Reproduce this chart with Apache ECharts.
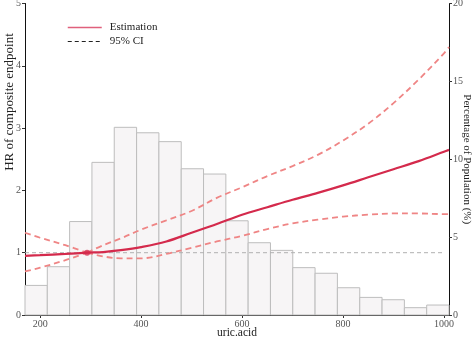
<!DOCTYPE html>
<html>
<head>
<meta charset="utf-8">
<script src="https://cdn.jsdelivr.net/npm/echarts@6/dist/echarts.min.js"></script>
<style>
  html, body { margin: 0; padding: 0; background: #fff; }
  #chart { width: 474px; height: 339px; }
</style>
</head>
<body>
<div id="chart"></div>
<script>
// Histogram of uric acid (percentage of population per bin)
const binEdges = [170, 214.2, 258.4, 302.6, 346.8, 391.1, 435.3, 479.5, 523.7, 567.9,
                  612.1, 656.3, 700.5, 744.7, 788.9, 833.2, 877.4, 921.6, 965.8, 1010];
const binPercent = [1.9, 3.1, 6.0, 9.8, 12.05, 11.7, 11.13, 9.39, 9.05, 6.05,
                    4.64, 4.15, 3.04, 2.68, 1.75, 1.13, 0.98, 0.47, 0.64];

// Restricted cubic spline: hazard ratio with 95% confidence limits
const splineX  = [170, 200, 250, 293, 325, 360, 400, 450, 500, 550, 600, 650, 700, 750, 800, 850, 900, 950, 1000, 1010];
const hrEst    = [0.95, 0.96, 0.98, 1.00, 1.01, 1.04, 1.09, 1.18, 1.32, 1.46, 1.61, 1.73, 1.85, 1.96, 2.08, 2.21, 2.34, 2.47, 2.62, 2.65];
const hrUpper  = [1.32, 1.24, 1.12, 1.00, 1.12, 1.23, 1.37, 1.52, 1.67, 1.88, 2.05, 2.23, 2.39, 2.57, 2.80, 3.07, 3.40, 3.78, 4.20, 4.30];
const hrLower  = [0.70, 0.76, 0.88, 1.00, 0.94, 0.91, 0.91, 0.98, 1.08, 1.18, 1.27, 1.38, 1.47, 1.53, 1.58, 1.61, 1.63, 1.63, 1.62, 1.62];

// Reference value and reference line
const refX = 293;
const refHR = 1;
const refLineX = [170, 1000];

// Axis ticks
const xTicks = [200, 400, 600, 800, 1000];

const serif = 'Liberation Serif';
const estColor = '#d42a4c';
const ciColor = '#ef8585';

const refIdx = splineX.indexOf(refX);
const pairs = (ys, from, to) => splineX.slice(from, to).map((x, i) => [x, ys[from + i]]);

const ciSeries = [];
[hrUpper, hrLower].forEach(ys => {
  [[0, refIdx + 1], [refIdx, splineX.length]].forEach(([a, b]) => {
    ciSeries.push({
      name: '95% CI',
      type: 'line',
      yAxisIndex: 0,
      data: pairs(ys, a, b),
      smooth: 0.35,
      symbol: 'none',
      lineStyle: { color: ciColor, width: 1.8, type: [6, 4] },
      itemStyle: { color: ciColor },
      z: 3,
      silent: true
    });
  });
});

const histData = binPercent.map((p, i) => [binEdges[i], binEdges[i + 1], p]);

const axisLabelStyle = { color: '#555', fontFamily: serif, fontSize: 10 };

const option = {
  animation: false,
  backgroundColor: '#fff',
  grid: { left: 25, right: 25, top: 3.5, bottom: 24, containLabel: false, outerBoundsMode: 'none' },
  legend: {
    orient: 'vertical',
    left: 62,
    top: 17,
    itemWidth: 34,
    itemHeight: 12,
    itemGap: 3,
    textStyle: { fontFamily: serif, fontSize: 11, color: '#222', padding: [0, 0, 0, 3] },
    data: [
      { name: 'Estimation', itemStyle: { opacity: 0 }, lineStyle: { color: '#e0607c', width: 1.5, type: 'solid' } },
      { name: '95% CI', itemStyle: { opacity: 0 }, lineStyle: { color: '#222', width: 1.2, type: [4, 3] } }
    ]
  },
  xAxis: {
    type: 'value',
    min: 170,
    max: 1010,
    name: 'uric.acid',
    nameLocation: 'middle',
    nameGap: 12,
    nameMoveOverlap: false,
    nameTextStyle: { fontFamily: serif, fontSize: 11.5, color: '#222' },
    axisLine: { show: true, lineStyle: { color: '#111', width: 1 } },
    axisTick: { show: true, length: 3, customValues: xTicks, lineStyle: { color: '#333' } },
    axisLabel: Object.assign({ margin: 4, customValues: xTicks, formatter: v => String(v) }, axisLabelStyle),
    splitLine: { show: false }
  },
  yAxis: [
    {
      type: 'value',
      position: 'left',
      min: 0,
      max: 5,
      interval: 1,
      axisLine: { show: true, lineStyle: { color: '#111', width: 1 } },
      axisTick: { show: true, length: 3, lineStyle: { color: '#333' } },
      axisLabel: Object.assign({ margin: 4 }, axisLabelStyle),
      splitLine: { show: false }
    },
    {
      type: 'value',
      position: 'right',
      min: 0,
      max: 20,
      interval: 5,
      name: 'Percentage of Population (%)',
      nameLocation: 'middle',
      nameRotate: -90,
      nameGap: 12,
      nameMoveOverlap: false,
      nameTextStyle: { fontFamily: serif, fontSize: 11, color: '#222' },
      axisLine: { show: true, lineStyle: { color: '#111', width: 1 } },
      axisTick: { show: true, length: 3, lineStyle: { color: '#333' } },
      axisLabel: Object.assign({ margin: 4 }, axisLabelStyle),
      splitLine: { show: false }
    }
  ],
  graphic: [
    {
      type: 'text',
      x: 10,
      y: 102,
      rotation: Math.PI / 2,
      style: {
        text: 'HR of composite endpoint',
        font: '13px "Liberation Serif"',
        fill: '#222',
        align: 'center',
        verticalAlign: 'middle'
      }
    }
  ],
  series: [
    {
      name: 'Population',
      type: 'custom',
      yAxisIndex: 1,
      data: histData,
      z: 1,
      silent: true,
      renderItem: function (params, api) {
        const tl = api.coord([api.value(0), api.value(2)]);
        const br = api.coord([api.value(1), 0]);
        return {
          type: 'rect',
          shape: { x: tl[0], y: tl[1], width: br[0] - tl[0], height: br[1] - tl[1] },
          style: { fill: '#f7f5f6', stroke: '#bdbdbd', lineWidth: 1 }
        };
      }
    },
    {
      name: 'Reference',
      type: 'line',
      yAxisIndex: 0,
      data: refLineX.map(x => [x, refHR]),
      symbol: 'none',
      lineStyle: { color: '#b0b0b0', width: 1, type: [4, 3] },
      z: 2,
      silent: true
    },
    ...ciSeries,
    {
      name: 'Estimation',
      type: 'line',
      yAxisIndex: 0,
      data: pairs(hrEst, 0, splineX.length),
      smooth: 0.35,
      symbol: 'none',
      lineStyle: { color: estColor, width: 2.2 },
      itemStyle: { color: estColor },
      z: 4,
      silent: true
    },
    {
      name: 'Reference point',
      type: 'scatter',
      yAxisIndex: 0,
      data: [[refX, refHR]],
      symbol: 'circle',
      symbolSize: 6,
      itemStyle: { color: estColor },
      z: 5,
      silent: true
    }
  ]
};

const chart = echarts.init(document.getElementById('chart'), null, { renderer: 'canvas' });
chart.setOption(option);
</script>
</body>
</html>
